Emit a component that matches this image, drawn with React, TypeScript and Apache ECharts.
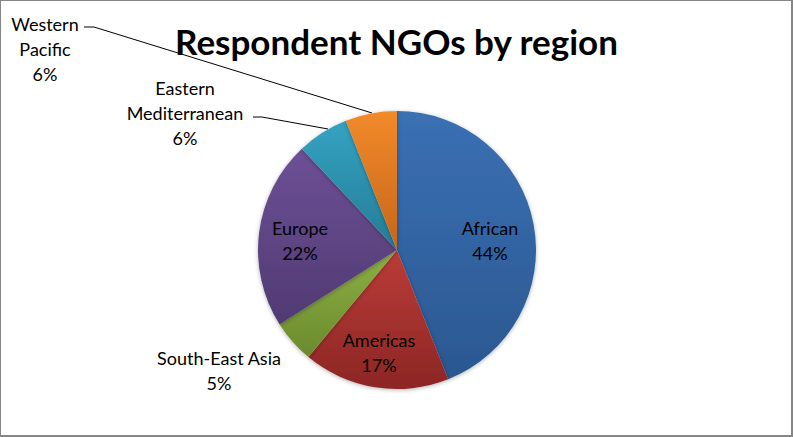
import React, { useEffect, useRef } from 'react';
import * as echarts from 'echarts';

const categories = ['African', 'Americas', 'South-East Asia', 'Europe', 'Eastern Mediterranean', 'Western Pacific'];
const labelNames = ['African', 'Americas', 'South-East Asia', 'Europe', 'Eastern\nMediterranean', 'Western\nPacific'];
const values = [44, 17, 5, 22, 6, 6];
const colorTop = ['#3a70b4', '#bb3c38', '#8db043', '#6d5096', '#33a3c2', '#f28a2a'];
const colorBottom = ['#2b5790', '#8c2624', '#6a8a2e', '#503a72', '#257c96', '#c6661b'];

const FONT = 'Lato, "Open Sans", sans-serif';

// label layout (positions of label centres and leader lines)
const labelPos: [number, number][] = [
  [490, 240],
  [379, 352],
  [219, 370],
  [300, 240],
  [185, 113],
  [45, 49],
];
const linePts: ([number, number][] | null)[] = [
  null, null, null, null,
  [[328, 129], [262, 117], [253, 117]],
  [[372, 113], [94, 27], [84, 27]],
];

export default function App() {
  const ref = useRef<HTMLDivElement>(null);
  useEffect(() => {
    if (!ref.current) return;
    const chart = echarts.init(ref.current, undefined, { renderer: 'svg' });
    const data = values.map((v, i) => ({
      name: categories[i],
      value: v,
      itemStyle: {
        color: new echarts.graphic.LinearGradient(0, 0, 0, 1, [
          { offset: 0, color: colorTop[i] },
          { offset: 1, color: colorBottom[i] },
        ]),
      },
      label: {
        position: linePts[i] ? 'outside' : 'inside',
      },
      labelLine: { show: !!linePts[i] },
    }));
    chart.setOption({
      animation: false,
      backgroundColor: '#ffffff',
      graphic: [
        { type: 'rect', silent: true, z: -10, shape: { x: 0, y: 0, width: 793, height: 437 }, style: { fill: '#868686' } },
        { type: 'rect', silent: true, z: -9, shape: { x: 1, y: 1, width: 790, height: 434 }, style: { fill: '#ffffff' } },
      ],
      title: {
        text: 'Respondent NGOs by region',
        left: 'center',
        top: 18,
        textStyle: { fontFamily: FONT, fontSize: 35, fontWeight: 'bold', color: '#000' },
      },
      series: [
        {
          type: 'pie',
          center: [397, 250],
          radius: 139,
          startAngle: 90,
          clockwise: true,
          data,
          itemStyle: { shadowBlur: 4, shadowColor: 'rgba(0,0,0,0.3)', shadowOffsetY: 1 },
          label: {
            show: true,
            color: '#000',
            fontFamily: FONT,
            fontSize: 18,
            lineHeight: 25,
            align: 'center',
            formatter: (p: any) => labelNames[p.dataIndex] + '\n' + Math.round(p.percent) + '%',
          },
          labelLine: { lineStyle: { color: '#000', width: 1 }, length: 10, length2: 10 },
          labelLayout: (p: any) => {
            const i = p.dataIndex;
            const r: any = { x: labelPos[i][0], y: labelPos[i][1], align: 'center', verticalAlign: 'middle' };
            if (linePts[i]) r.labelLinePoints = linePts[i];
            return r;
          },
        },
      ],
    });
    return () => chart.dispose();
  }, []);
  return <div ref={ref} style={{ position: 'absolute', left: 0, top: 0, width: 793, height: 437 }} />;
}
